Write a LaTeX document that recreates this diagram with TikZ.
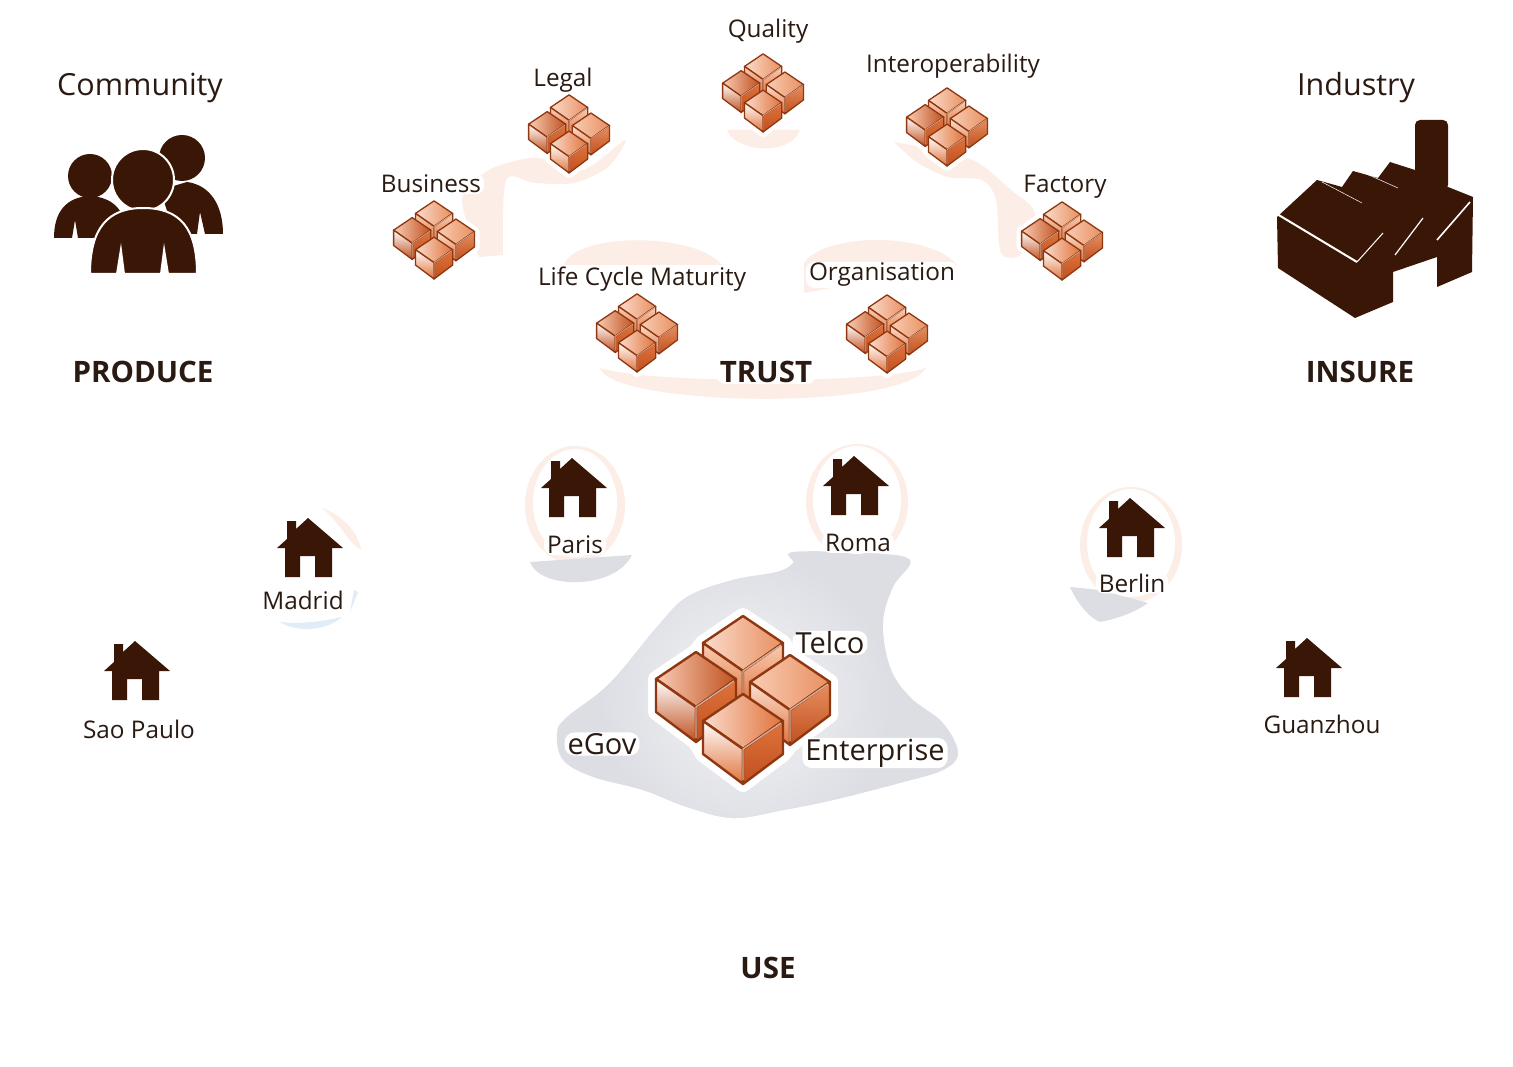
\documentclass[tikz,border=0pt]{standalone}
\usepackage{fontspec}
\setmainfont{Open Sans}
\definecolor{iconbrown}{HTML}{3A1606}
\definecolor{textbrown}{HTML}{2A1A12}
\definecolor{cubeline}{HTML}{8E3710}
\definecolor{cubeorange}{HTML}{E0733C}
\definecolor{cubepale}{HTML}{F9CDB5}
\definecolor{cubedeep}{HTML}{C0501F}
\definecolor{cubesoft}{HTML}{E88F60}
\definecolor{blobpink}{HTML}{FCEEE6}
\definecolor{blobgray}{HTML}{DDDEE4}
\definecolor{blobblue}{HTML}{E0ECF8}
\tikzset{
  cubeedge/.style={draw=cubeline, line width=2.4pt, line join=round},
  cubehalo/.style={draw=white, fill=white, line width=16pt, line join=round},
  cubeglint/.style={draw=white, draw opacity=.6, line width=1.4pt},
  smallset/.style={scale=.465, cubeedge/.style={draw=cubeline, line width=1.3pt, line join=round},
    cubehalo/.style={draw=white, fill=white, line width=10pt, line join=round},
    cubeglint/.style={draw=white, draw opacity=.6, line width=.7pt}},
  smalltext/.style={text=textbrown, font=\fontsize{24.3}{27}\selectfont, fill=white, rounded corners=8pt, inner xsep=3pt, inner ysep=1pt},
  setlabel/.style={text=textbrown, font=\fontsize{29}{33}\selectfont, fill=white, rounded corners=10pt, inner xsep=3pt, inner ysep=1pt},
  headtext/.style={text=textbrown, font=\fontsize{30.5}{34}\selectfont},
  boldtext/.style={text=textbrown, font=\fontsize{29.5}{34}\selectfont\bfseries, fill=white, rounded corners=8pt, inner xsep=3pt, inner ysep=1pt},
  pink/.style={fill=blobpink, draw=none},
  gray/.style={fill=blobgray, draw=none},
  cubeset/.pic={
    \path[cubehalo] (-2,-82) -- (38,-55) -- (45,-43) -- (85,-16) -- (85,17) -- (45,47) -- (38,56) -- (-2,86) -- (-42,56) -- (-49,44) -- (-89,14) -- (-89,-19) -- (-49,-46) -- (-42,-55) -- cycle;
    \cubeblock{-2}{-82}{white!30!cubepale}{cubesoft}{cubepale}{cubeorange}{cubepale}{cubeorange}
    \cubeblock{-49}{-46}{cubepale}{cubedeep}{white}{cubedeep}{cubeorange}{cubedeep}
    \cubeblock{45}{-43}{cubepale}{cubesoft}{white!40!cubepale}{cubeorange}{cubesoft}{cubedeep}
    \cubeblock{-2}{-4}{white!30!cubepale}{cubeorange}{white}{cubeorange}{cubeorange}{cubedeep}
  },
  housesign/.pic={
    \fill[iconbrown] (-2,-30) -- (33,0) -- (22,0) -- (22,29) -- (5,29) -- (5,8) -- (-10,8) -- (-10,29) -- (-25,29) -- (-25,0) -- (-33,0) -- (-23,-9) -- (-23,-27) -- (-14,-27) -- (-14,-19) -- cycle;
  }
}
% one cube: apex x, apex y, then three faces as light/dark pairs
\newcommand{\cubeblock}[8]{
  \begin{scope}[shift={(#1,#2)}]
    \path[cubeedge, left color=#3, right color=#4] (0,0) -- (40,27) -- (0,55) -- (-40,27) -- cycle;
    \path[cubeedge, top color=#5, bottom color=#6] (-40,27) -- (0,55) -- (0,90) -- (-40,60) -- cycle;
    \path[cubeedge, top color=#7, bottom color=#8] (40,27) -- (0,55) -- (0,90) -- (40,60) -- cycle;
    \path[cubeglint] (38,29) -- (0,55) -- (0,86);
  \end{scope}
}
\begin{document}
\begin{tikzpicture}[x=1pt,y=-1pt]
\useasboundingbox (0,0) rectangle (1513,1067);
\fill[white] (0,0) rectangle (1513,1067);
% washes behind the cubes
\path[pink] plot[smooth, tension=.5] coordinates {(479,257) (462,200) (484,173) (511,162) (540,158) (583,170) (625,140) (608,167) (574,183) (535,183) (506,180) (503,255)} -- cycle;
\path[pink] plot[smooth, tension=.5] coordinates {(894,142) (918,163) (948,177) (982,180) (996,200) (1001,253) (1023,253) (1035,213) (1011,190) (977,162) (940,150)} -- cycle;
\path[pink] (727,130) .. controls (735,152) and (790,157) .. (800,130) -- cycle;
\path[pink] (564,265) .. controls (575,232) and (695,232) .. (722,265) -- cycle;
\path[pink] (804,293) -- (804,263) .. controls (825,232) and (930,232) .. (957,265) -- cycle;
\path[pink] (600,368) .. controls (610,406) and (900,412) .. (926,368) .. controls (880,384) and (650,384) .. cycle;
% washes behind the houses
\path[pink] (575,505) ellipse [x radius=50, y radius=59];
\path[pink] (857,502) ellipse [x radius=51, y radius=58];
\path[pink] (1131,545) ellipse [x radius=51, y radius=58];
\path[gray] (530,562) .. controls (540,590) and (615,590) .. (632,555) -- cycle;
\path[gray] (1070,587) .. controls (1078,605) and (1090,618) .. (1100,622) .. controls (1120,618) and (1135,612) .. (1148,603) -- (1100,590) -- cycle;
\path[gray] plot[smooth cycle, tension=.6] coordinates {(793,552) (793,563) (777,572) (733,580) (687,597) (657,627) (610,683) (567,717) (557,733) (563,760) (593,777) (643,790) (687,807) (733,818) (783,810) (833,800) (900,783) (943,770) (958,753) (943,723) (910,697) (890,667) (883,623) (893,587) (910,560) (867,553)};
\begin{scope}
\clip plot[smooth cycle, tension=.6] coordinates {(793,552) (793,563) (777,572) (733,580) (687,597) (657,627) (610,683) (567,717) (557,733) (563,760) (593,777) (643,790) (687,807) (733,818) (783,810) (833,800) (900,783) (943,770) (958,753) (943,723) (910,697) (890,667) (883,623) (893,587) (910,560) (867,553)};
\shade[inner color=blobgray!35!white, outer color=blobgray] (745,698) circle (145);
\end{scope}
\path[fill=white] (575,503) ellipse [x radius=42, y radius=54];
\path[fill=white] (857,500) ellipse [x radius=44, y radius=54];
\path[fill=white] (1131,543) ellipse [x radius=44, y radius=54];
\path[pink] (322,508) .. controls (342,515) and (358,532) .. (361,550) .. controls (350,545) and (342,525) .. cycle;
\path[fill=blobblue] (280,622) .. controls (295,632) and (325,632) .. (342,617) .. controls (320,622) and (300,624) .. cycle;
\path[fill=blobblue] (354,590) -- (358,592) -- (350,612) -- cycle;
% cube sets
\pic (core) at (745,698) {cubeset};
\pic[smallset] (quality) at (764,92) {cubeset};
\pic[smallset] (legal) at (570,133) {cubeset};
\pic[smallset] (interop) at (948,126) {cubeset};
\pic[smallset] (business) at (435,239) {cubeset};
\pic[smallset] (factory) at (1063,240) {cubeset};
\pic[smallset] (lifecycle) at (638,332) {cubeset};
\pic[smallset] (organisation) at (888,333) {cubeset};
% houses
\pic (paris) at (574,488) {housesign};
\pic (roma) at (856,486) {housesign};
\pic (berlin) at (1132,528) {housesign};
\pic (madrid) at (310,548) {housesign};
\pic (saopaulo) at (137,671) {housesign};
\pic (guanzhou) at (1309,668) {housesign};
% community
\begin{scope}[iconbrown]
\fill (90,176) circle (22);
\fill (54,238) .. controls (54,212) and (66,197) .. (90,196) .. controls (108,197) and (118,205) .. (122,215) -- (108,238) -- (78,238) -- (75,220) -- (72,238) -- cycle;
\fill (182,158) circle (23);
\fill (160,190) -- (187,182) .. controls (210,185) and (223,205) .. (223,234) -- (205,234) -- (200,212) -- (197,234) -- (175,234) -- cycle;
\draw[white, line width=2pt, fill=iconbrown] (143,180) circle (31);
\draw[white, line width=2pt, fill=iconbrown] (90,274) .. controls (90,228) and (108,208) .. (143,208) .. controls (180,208) and (197,228) .. (197,274) -- cycle;
\fill[white] (116,274) -- (121,243) -- (125,274) -- cycle;
\fill[white] (160,274) -- (164,243) -- (169,274) -- cycle;
\end{scope}
% industry
\fill[iconbrown, rounded corners=5pt] (1415,190) -- (1415,120) -- (1448,120) -- (1448,190) -- cycle;
\fill[iconbrown] (1277,217) -- (1317,180) -- (1342,187) -- (1353,171) -- (1378,178) -- (1390,162) -- (1415,170) -- (1448,187) -- (1473,197) -- (1472,272) -- (1437,287) -- (1437,257) -- (1393,272) -- (1393,302) -- (1355,318) -- (1278,268) -- cycle;
\draw[white, line width=2pt] (1277,214) -- (1357,262);
\draw[white, line width=1pt] (1357,262) -- (1383,233);
\draw[white, line width=1.2pt] (1395,255) -- (1423,218);
\draw[white, line width=1.6pt] (1437,240) -- (1470,202);
\draw[white, line width=.5pt] (1322,182) -- (1362,203);
\draw[white, line width=.5pt] (1362,172) -- (1398,188);
% labels
\node[headtext] (community) at (140,88) {Community};
\node[headtext] (industry) at (1356,88) {Industry};
\node[smalltext] (qualitytext) at (768,31) {Quality};
\node[smalltext] (legaltext) at (563,80) {Legal};
\node[smalltext] (interoptext) at (953,66) {Interoperability};
\node[smalltext] (businesstext) at (431,184) {Business};
\node[smalltext] (factorytext) at (1065,187) {Factory};
\node[smalltext] (lifecycletext) at (642,279) {Life Cycle Maturity};
\node[smalltext] (organisationtext) at (882,275) {Organisation};
\node[smalltext] (paristext) at (575,545) {Paris};
\node[smalltext] (romatext) at (858,543) {Roma};
\node[smalltext] (berlintext) at (1132,583) {Berlin};
\node[smalltext] (madridtext) at (303,600) {Madrid};
\node[smalltext] (saopaulotext) at (139,729) {Sao Paulo};
\node[smalltext] (guanzhoutext) at (1322,724) {Guanzhou};
\node[setlabel] (telco) at (830,643) {Telco};
\node[setlabel] (enterprise) at (875,753) {Enterprise};
\node[setlabel] (egov) at (602,744) {eGov};
\node[boldtext] (produce) at (143,372) {PRODUCE};
\node[boldtext] (trust) at (766,372) {TRUST};
\node[boldtext] (insure) at (1360,372) {INSURE};
\node[boldtext] (use) at (768,968) {USE};
\end{tikzpicture}
\end{document}
